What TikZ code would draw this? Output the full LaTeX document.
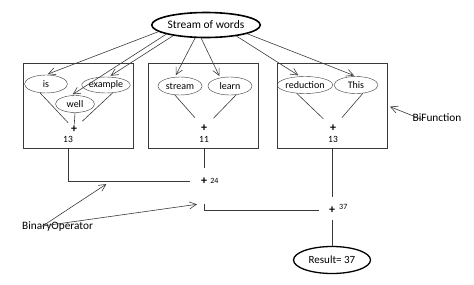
\documentclass[tikz,border=0pt]{standalone}
\usepackage{fontspec}
\setmainfont{Carlito}
\usepackage{xcolor}
\usetikzlibrary{arrows.meta,positioning,shapes.geometric}
\definecolor{linegray}{HTML}{3A3A3A}

\begin{document}
\begin{tikzpicture}[x=1pt,y=-1pt,
  word/.style={draw=linegray,ellipse,minimum width=43pt,minimum height=18pt,inner sep=0pt,font=\fontsize{10}{10}\selectfont},
  bigword/.style={draw=black,ellipse,line width=1.6pt,inner sep=0pt,font=\fontsize{11.5}{12}\selectfont},
  group/.style={draw=linegray,minimum width=110pt,minimum height=85pt,inner sep=0pt},
  plus/.style={inner sep=0pt,font=\fontsize{12}{12}\selectfont\bfseries},
  sum/.style={inner sep=0pt,font=\fontsize{9.5}{10}\selectfont},
  small/.style={inner sep=0pt,font=\fontsize{8}{8}\selectfont},
  arrow/.style={-{Straight Barb[length=7pt,width=7pt]},draw=linegray,line width=0.6pt,shorten >=2pt},
  leg/.style={draw=linegray,line width=0.6pt},
  note/.style={font=\fontsize{11.3}{12}\selectfont,inner sep=0pt}
]
\useasboundingbox (0,0) rectangle (474,284);
% source
\node[bigword,minimum width=97pt,minimum height=25pt] (words) at (206,25) {Stream of words};
% the three groups
\node[group] (box1) at (78,105.5) {};
\node[group] (box2) at (203,105.5) {};
\node[group] (box3) at (332,105.5) {};
\node[word] (is) at (46,84) {is};
\node[word,minimum height=16pt] (example) at (106,85) {example};
\node[word,minimum width=39pt,minimum height=17pt] (well) at (75,104) {well};
\node[word,minimum width=44pt,minimum height=18pt] (stream) at (180,86) {stream};
\node[word,minimum width=44pt,minimum height=18pt] (learn) at (230,86) {learn};
\node[word,minimum width=46pt,minimum height=17pt] (reduction) at (305,85) {reduction};
\node[word,minimum width=44pt,minimum height=17pt] (this) at (356,85) {This};
\node[plus] (plus1) at (74,129) {+};
\node[plus] (plus2) at (204,128) {+};
\node[plus] (plus3) at (333,128) {+};
\node[sum] (sum1) at (68,139) {13};
\node[sum] (sum2) at (204,139) {11};
\node[sum] (sum3) at (333,139) {13};
% combining
\node[plus] (plus24) at (204,181) {+};
\node[small,right=3pt of plus24] (val24) {24};
\node[plus] (plus37) at (332,210) {+};
\node[small,anchor=west] (val37) at (339,207) {37};
\node[bigword,line width=1.3pt,minimum width=77pt,minimum height=27pt,font=\fontsize{11}{12}\selectfont] (result) at (332,260) {Result= 37};
\node[note,anchor=west] (binop) at (22,227) {BinaryOperator};
\node[note] (bifn) at (437,118) {BiFunction};
\coordinate (op1) at (108,183);
\coordinate (op2) at (199,204);

% words into the groups
\draw[arrow] (words.188) -- (is.north);
\draw[arrow] (words.193) -- (well.115);
\draw[arrow] (words.198) -- (example.70);
\draw[arrow] (words.230) -- (stream.120);
\draw[arrow] (words.250) -- (learn.140);
\draw[arrow] (words.340) -- (reduction.120);
\draw[arrow] (words.348) -- (this.north);
% inside the groups
\draw[leg,shorten >=4pt] (is.236) -- (plus1);
\draw[leg,shorten >=1pt] (well.south) -- (plus1);
\draw[leg,shorten >=7pt] (example.310) -- (plus1);
\draw[leg,shorten >=9pt] (stream.240) -- (plus2);
\draw[leg,shorten >=9pt] (learn.305) -- (plus2);
\draw[leg,shorten >=9pt] (reduction.225) -- (plus3);
\draw[leg,shorten >=9pt] (this.310) -- (plus3);
% reducing the partial results
\draw[leg,shorten >=11pt] (sum1 |- box1.south) -- (sum1 |- plus24) -- (plus24);
\draw[leg,shorten >=9pt] (box2.south -| plus24) -- (plus24);
\draw[leg,shorten <=19pt,shorten >=10pt] (plus24) -- (plus24 |- plus37) -- (plus37);
\draw[leg,shorten >=9pt] (box3.south -| plus37) -- (plus37);
\draw[leg,shorten <=6pt] (plus37) -- (result.north);
% labels
\draw[arrow] ([xshift=-15pt,yshift=-4pt]binop.north) -- (op1);
\draw[arrow] ([xshift=-15pt,yshift=-4pt]binop.north) -- (op2);
\draw[arrow,shorten >=3pt] ([xshift=-14pt,yshift=-6pt]bifn.north) -- (box3.east);
\end{tikzpicture}
\end{document}
